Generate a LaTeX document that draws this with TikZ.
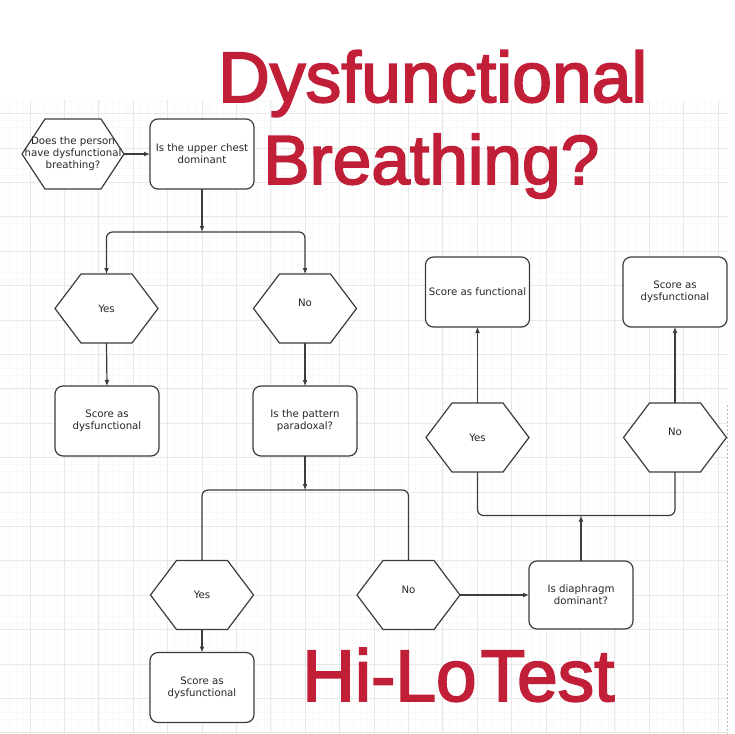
\documentclass[tikz,border=0pt]{standalone}
\usepackage{fontspec}
\usetikzlibrary{arrows.meta}
\newfontfamily\boxfont{DejaVu Sans}
\newfontfamily\titlefont[FakeBold=2.5]{Liberation Sans}
\definecolor{titlered}{RGB}{193,30,56}
\definecolor{shapeline}{RGB}{60,60,60}
\definecolor{majorgrid}{RGB}{232,232,232}
\definecolor{minorgrid}{RGB}{249,249,249}
\tikzset{
  boxtext/.style={font=\boxfont\fontsize{10.2}{12}\selectfont, text=black!85, align=center},
  roundbox/.style={boxtext, draw=shapeline, line width=1.2pt, rounded corners=8pt, fill=white,
    minimum width=104pt, minimum height=70pt, inner sep=0pt, outer sep=0pt},
  hexnode/.style={boxtext, rectangle, minimum width=103pt, minimum height=69pt, inner sep=0pt, outer sep=0pt},
  hexline/.style={draw=shapeline, line width=1.2pt, fill=white, line join=miter},
  conn/.style={draw=shapeline, line width=1.2pt, rounded corners=6pt},
  arr/.style={conn, -{Latex[length=6pt,width=5pt]}},
  titletext/.style={text=titlered, inner sep=0pt, anchor=base west},
  uplabel/.style={boxtext, yshift=5.5pt}
}
\newcommand{\hexshape}[2]{%
  \draw[hexline] (#1.west) -- ([xshift=#2]#1.north west) -- ([xshift=-#2]#1.north east) -- (#1.east)
    -- ([xshift=-#2]#1.south east) -- ([xshift=#2]#1.south west) -- cycle;}
\begin{document}
\begin{tikzpicture}[x=1pt,y=-1pt]
\useasboundingbox (0,0) rectangle (734,734);
\fill[white] (0,0) rectangle (734,734);
% grid
\begin{scope}
  \clip (0,100) rectangle (728,734);
  \begin{scope}[shift={(30,113.6)}]
    \draw[minorgrid, line width=0.5pt, step=6.88pt] (-40,-20) grid (710,630);
    \draw[majorgrid, line width=0.8pt, step=34.4pt] (-40,-20) grid (710,630);
  \end{scope}
\end{scope}
\draw[gray!55, line width=0.8pt, dash pattern=on 2pt off 2pt] (727.5,405) -- (727.5,734);

% titles
\node[titletext, font=\titlefont\fontsize{71.5}{72}\selectfont] (t1) at (218,102) {Dysfunctional};
\node[titletext, font=\titlefont\fontsize{69.5}{72}\selectfont] (t2) at (263,184) {Breathing?};
\node[titletext, font=\titlefont\fontsize{73}{72}\selectfont] (t3) at (302,701) {Hi-Lo\kern4pt Test};

% hexagon nodes (invisible rectangles, outlines drawn below)
\node[hexnode, minimum width=102pt, minimum height=70pt] (q0) at (73,154) {};
\node[hexnode] (yes1) at (106.5,308.5) {};
\node[hexnode] (no1) at (305,308.5) {};
\node[hexnode] (yes2) at (202,595) {};
\node[hexnode] (no2) at (408.5,595) {};
\node[hexnode] (yes3) at (477.5,437.5) {};
\node[hexnode] (no3) at (675,437.5) {};
\hexshape{q0}{23pt}
\hexshape{yes1}{26pt}
\hexshape{no1}{26pt}
\hexshape{yes2}{26pt}
\hexshape{no2}{26pt}
\hexshape{yes3}{26pt}
\hexshape{no3}{26pt}
\node[boxtext] (q0t) at (q0.center) {Does the person\\have dysfunctional\\breathing?};
\node[boxtext] (yes1t) at (yes1.center) {Yes};
\node[uplabel] (no1t) at (no1.center) {No};
\node[boxtext] (yes2t) at (yes2.center) {Yes};
\node[uplabel] (no2t) at (no2.center) {No};
\node[boxtext] (yes3t) at (yes3.center) {Yes};
\node[uplabel] (no3t) at (no3.center) {No};

% boxes
\node[roundbox] (upper) at (202,154) {Is the upper chest\\dominant};
\node[roundbox] (sd1) at (107,421) {Score as\\dysfunctional};
\node[roundbox] (para) at (305,421) {Is the pattern\\paradoxal?};
\node[roundbox] (sd2) at (202,687.5) {Score as\\dysfunctional};
\node[roundbox, minimum height=68pt] (dia) at (581,595) {Is diaphragm\\dominant?};
\node[roundbox] (func) at (477.5,292) {Score as functional};
\node[roundbox] (sd3) at (675,292) {Score as\\dysfunctional};

% connectors
\coordinate (s1) at (202,232);
\coordinate (s2) at (305,490);
\coordinate (s3) at (581,515.5);
\draw[arr] (q0.east) -- (upper.west);
\draw[arr] (upper.south) -- (s1);
\draw[arr] (s1) -| (yes1.north);
\draw[arr] (s1) -| (no1.north);
\draw[arr] (yes1.south) -- (sd1.north);
\draw[arr] (no1.south) -- (para.north);
\draw[arr] (para.south) -- (s2);
\draw[conn] (s2) -| (yes2.north);
\draw[conn] (s2) -| (no2.north);
\draw[arr] (yes2.south) -- (sd2.north);
\draw[arr] (no2.east) -- (dia.west);
\draw[arr] (dia.north) -- (s3);
\draw[conn] (s3) -| (yes3.south);
\draw[conn] (s3) -| (no3.south);
\draw[arr] (yes3.north) -- (func.south);
\draw[arr] (no3.north) -- (sd3.south);
\end{tikzpicture}
\end{document}
